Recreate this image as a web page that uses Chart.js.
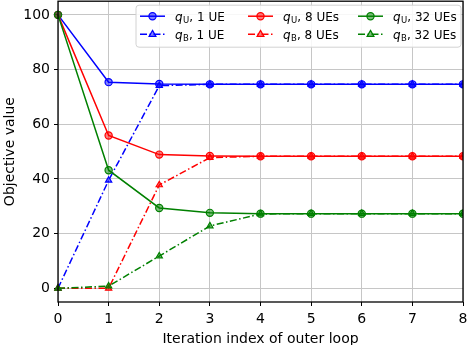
<!DOCTYPE html>
<html>
<head>
<meta charset="utf-8">
<script src="https://cdn.jsdelivr.net/npm/chart.js@4/dist/chart.umd.min.js"></script>
<style>
  html, body { margin: 0; padding: 0; background: #ffffff; overflow: hidden; }
  #wrap { width: 474px; height: 345px; overflow: hidden; }
  #c { display: block; margin-top: -4px; }
</style>
</head>
<body>
<div id="wrap"><canvas id="c" width="474" height="352"></canvas></div>
<script>
// Outer-loop iterations
const iterations = [0, 1, 2, 3, 4, 5, 6, 7, 8];

// Objective value per iteration: q_U (solid, circles) and q_B (dash-dot, triangles)
const qU_1UE   = [100, 75.4, 74.7, 74.6, 74.6, 74.6, 74.6, 74.6, 74.6];
const qB_1UE   = [0, 39.5, 74.1, 74.6, 74.6, 74.6, 74.6, 74.6, 74.6];
const qU_8UEs  = [100, 55.9, 48.9, 48.4, 48.3, 48.3, 48.3, 48.3, 48.3];
const qB_8UEs  = [0, 0, 37.8, 47.8, 48.3, 48.3, 48.3, 48.3, 48.3];
const qU_32UEs = [100, 43.2, 29.4, 27.6, 27.3, 27.3, 27.3, 27.3, 27.3];
const qB_32UEs = [0, 0.8, 11.8, 22.8, 27.2, 27.3, 27.3, 27.3, 27.3];

// Axis ticks
const xTicks = [0, 1, 2, 3, 4, 5, 6, 7, 8];
const yTicks = [0, 20, 40, 60, 80, 100];

const FONT = "'DejaVu Sans', 'Liberation Sans', sans-serif";
const DASHDOT = [7, 2.5, 1.5, 2.5];

const series = [
  { sub: 'U', ues: '1 UE',   color: '#0000ff', fill: 'rgba(0,0,255,0.5)',   values: qU_1UE },
  { sub: 'B', ues: '1 UE',   color: '#0000ff', fill: 'rgba(0,0,255,0.5)',   values: qB_1UE },
  { sub: 'U', ues: '8 UEs',  color: '#ff0000', fill: 'rgba(255,0,0,0.5)',   values: qU_8UEs },
  { sub: 'B', ues: '8 UEs',  color: '#ff0000', fill: 'rgba(255,0,0,0.5)',   values: qB_8UEs },
  { sub: 'U', ues: '32 UEs', color: '#008000', fill: 'rgba(0,128,0,0.5)',   values: qU_32UEs },
  { sub: 'B', ues: '32 UEs', color: '#008000', fill: 'rgba(0,128,0,0.5)',   values: qB_32UEs }
];

const datasets = series.map((s, i) => ({
  label: 'q_' + s.sub + ', ' + s.ues,
  data: iterations.map((x, k) => ({ x: x, y: s.values[k] })),
  borderColor: s.color,
  backgroundColor: s.fill,
  borderWidth: 1.5,
  borderDash: s.sub === 'B' ? DASHDOT : [],
  pointStyle: s.sub === 'U' ? 'circle' : 'triangle',
  pointRadius: 3.6,
  pointBorderWidth: 1.2,
  pointBorderColor: s.color,
  pointBackgroundColor: s.fill,
  tension: 0,
  clip: { left: false, top: false, right: 0, bottom: false },
  order: series.length - 1 - i,
  _sub: s.sub,
  _ues: s.ues
}));

// Black frame around the plotting area
const framePlugin = {
  id: 'frame',
  afterDatasetsDraw(chart) {
    const { ctx, chartArea: a } = chart;
    ctx.save();
    ctx.strokeStyle = '#000000';
    ctx.lineWidth = 1.3;
    ctx.strokeRect(a.left, a.top, a.right - a.left, a.bottom - a.top);
    ctx.restore();
  }
};

function drawMarker(ctx, style, x, y, r, stroke, fill) {
  ctx.beginPath();
  if (style === 'circle') {
    ctx.arc(x, y, r, 0, Math.PI * 2);
  } else {
    ctx.moveTo(x, y - r * 1.05);
    ctx.lineTo(x + r * 0.95, y + r * 0.6);
    ctx.lineTo(x - r * 0.95, y + r * 0.6);
    ctx.closePath();
  }
  ctx.fillStyle = fill;
  ctx.fill();
  ctx.lineWidth = 1.2;
  ctx.setLineDash([]);
  ctx.strokeStyle = stroke;
  ctx.stroke();
}

// Three-column legend with subscripted symbols, inside the plot's upper right
const legendPlugin = {
  id: 'boxLegend',
  afterDraw(chart) {
    const { ctx, chartArea: a } = chart;
    const w = 325, h = 42;
    const x0 = a.right - 327, y0 = a.top + 4;
    ctx.save();
    // box
    const r = 3;
    ctx.beginPath();
    ctx.moveTo(x0 + r, y0);
    ctx.lineTo(x0 + w - r, y0);
    ctx.quadraticCurveTo(x0 + w, y0, x0 + w, y0 + r);
    ctx.lineTo(x0 + w, y0 + h - r);
    ctx.quadraticCurveTo(x0 + w, y0 + h, x0 + w - r, y0 + h);
    ctx.lineTo(x0 + r, y0 + h);
    ctx.quadraticCurveTo(x0, y0 + h, x0, y0 + h - r);
    ctx.lineTo(x0, y0 + r);
    ctx.quadraticCurveTo(x0, y0, x0 + r, y0);
    ctx.closePath();
    ctx.fillStyle = 'rgba(255,255,255,0.85)';
    ctx.fill();
    ctx.strokeStyle = '#d2d2d2';
    ctx.lineWidth = 1;
    ctx.stroke();

    const colX = [x0 + 4, x0 + 112, x0 + 222];
    const rowY = [y0 + 11, y0 + 29];
    const groups = ['1 UE', '8 UEs', '32 UEs'];
    chart.data.datasets.forEach(ds => {
      const col = groups.indexOf(ds._ues);
      const row = ds._sub === 'U' ? 0 : 1;
      const lx = colX[col], ly = rowY[row];
      ctx.beginPath();
      ctx.setLineDash(ds.borderDash);
      ctx.strokeStyle = ds.borderColor;
      ctx.lineWidth = 1.5;
      ctx.moveTo(lx, ly);
      ctx.lineTo(lx + 25, ly);
      ctx.stroke();
      drawMarker(ctx, ds.pointStyle, lx + 12.5, ly, 3.6, ds.borderColor, ds.backgroundColor);

      // label: italic q, subscript, then the rest
      let tx = lx + 35;
      ctx.fillStyle = '#000000';
      ctx.textBaseline = 'alphabetic';
      ctx.textAlign = 'left';
      const base = ly + 4.5;
      ctx.font = 'italic 12px ' + FONT;
      ctx.fillText('q', tx, base);
      tx += ctx.measureText('q').width + 0.5;
      ctx.font = '8.5px ' + FONT;
      ctx.fillText(ds._sub, tx, base + 2);
      tx += ctx.measureText(ds._sub).width;
      ctx.font = '12px ' + FONT;
      ctx.fillText(', ' + ds._ues, tx, base);
    });
    ctx.restore();
  }
};

new Chart(document.getElementById('c'), {
  type: 'line',
  data: { datasets: datasets },
  plugins: [framePlugin, legendPlugin],
  options: {
    responsive: false,
    animation: false,
    devicePixelRatio: 1,
    layout: { padding: { top: 1, right: 11, left: 0, bottom: 0 } },
    plugins: {
      legend: { display: false },
      tooltip: { enabled: false }
    },
    scales: {
      x: {
        type: 'linear',
        min: 0,
        max: 8,
        afterBuildTicks: s => { s.ticks = xTicks.map(v => ({ value: v })); },
        afterFit: s => { s.height = 46; s.paddingLeft = 0; s.paddingRight = 0; },
        grid: {
          color: '#c6c6c6',
          lineWidth: 1,
          drawTicks: true,
          tickLength: 4,
          tickColor: '#000000',
          tickWidth: 1
        },
        border: { display: false },
        ticks: {
          color: '#000000',
          font: { family: FONT, size: 14 },
          padding: 5,
          maxRotation: 0
        },
        title: {
          display: true,
          text: 'Iteration index of outer loop',
          color: '#000000',
          font: { family: FONT, size: 14 },
          padding: { top: 0, bottom: 0 }
        }
      },
      y: {
        type: 'linear',
        min: -5,
        max: 105,
        afterBuildTicks: s => { s.ticks = yTicks.map(v => ({ value: v })); },
        afterFit: s => { s.width = 58; s.paddingTop = 0; s.paddingBottom = 0; },
        grid: {
          color: '#c6c6c6',
          lineWidth: 1,
          drawTicks: true,
          tickLength: 4,
          tickColor: '#000000',
          tickWidth: 1
        },
        border: { display: false },
        ticks: {
          color: '#000000',
          font: { family: FONT, size: 14 },
          padding: 4
        },
        title: {
          display: true,
          text: 'Objective value',
          color: '#000000',
          font: { family: FONT, size: 14 },
          padding: { top: 1.5, bottom: 0 }
        }
      }
    }
  }
});
</script>
</body>
</html>
